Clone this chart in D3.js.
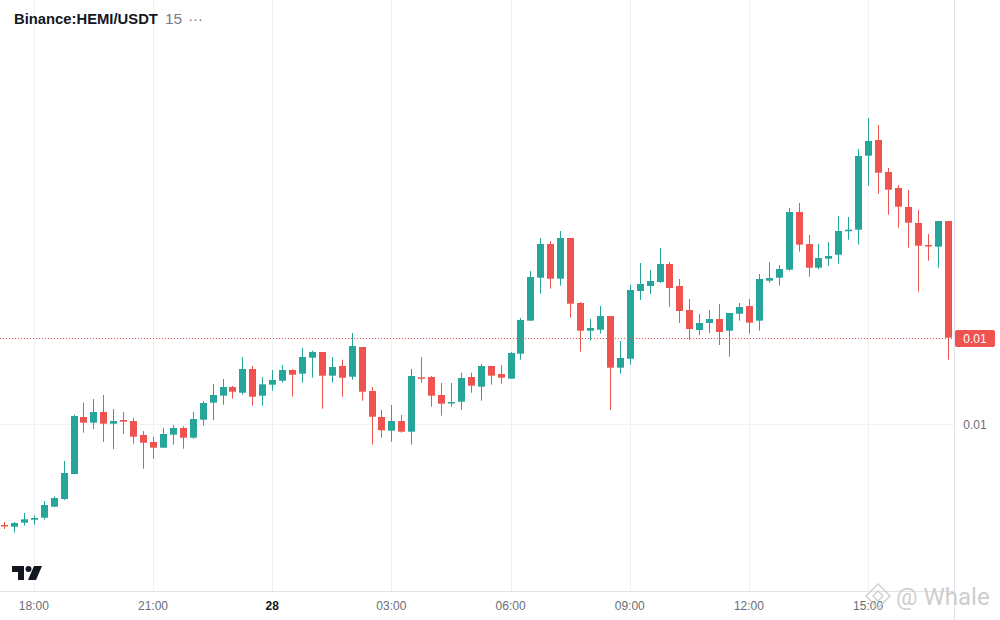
<!DOCTYPE html>
<html><head><meta charset="utf-8">
<script src="https://cdn.jsdelivr.net/npm/d3@7"></script>
<style>html,body{margin:0;padding:0;background:#fff;}svg{display:block;font-family:"Liberation Sans",Arial,sans-serif;}</style>
</head><body>
<svg id="c" width="1000" height="620"></svg>
<script>
const symbol = "Binance:HEMI/USDT";
const interval = "15";
const startTime = new Date(2025, 9, 27, 17, 15);
const stepMinutes = 15;
const opens = [0.00899,0.008973,0.009013,0.009043,0.009063,0.009173,0.00925,0.0095,0.01007,0.010013,0.01012,0.010003,0.01004,0.01003,0.00989,0.00982,0.009763,0.009893,0.00996,0.009863,0.010043,0.010213,0.010283,0.01037,0.010313,0.01055,0.010283,0.010393,0.010433,0.01054,0.010503,0.010663,0.01072,0.010483,0.01058,0.010473,0.01077,0.01033,0.01007,0.009933,0.01003,0.009923,0.010467,0.01047,0.01029,0.010215,0.010223,0.01047,0.010373,0.01058,0.0105,0.010453,0.010703,0.011033,0.011463,0.0118,0.011453,0.01186,0.01121,0.010933,0.010943,0.01108,0.010563,0.010653,0.01133,0.01138,0.01142,0.0116,0.01138,0.01114,0.01094,0.01101,0.01105,0.010933,0.011103,0.01118,0.011033,0.011433,0.011463,0.011543,0.01212,0.0118,0.011563,0.011653,0.011693,0.011927,0.011943,0.012683,0.01284,0.01252,0.01236,0.01217,0.01201,0.01179,0.011773,0.01203];
const highs = [0.00902,0.00902,0.00911,0.009087,0.00923,0.009277,0.00963,0.010093,0.010213,0.01025,0.01029,0.01015,0.01012,0.01006,0.00993,0.00987,0.00996,0.00999,0.009977,0.01012,0.01023,0.0104,0.01045,0.01038,0.01067,0.01058,0.01047,0.01054,0.01059,0.010547,0.01076,0.010733,0.01072,0.01067,0.010643,0.01091,0.01077,0.01037,0.01014,0.01019,0.01009,0.01055,0.01067,0.01048,0.01041,0.01041,0.010513,0.010513,0.0106,0.01058,0.01059,0.01072,0.01106,0.01153,0.01186,0.01183,0.01193,0.01186,0.01122,0.01105,0.01118,0.01108,0.01083,0.01139,0.01161,0.01154,0.01176,0.01162,0.01145,0.01125,0.0111,0.01114,0.0112,0.01111,0.01121,0.01125,0.0115,0.01162,0.01159,0.01216,0.01221,0.01189,0.0118,0.01182,0.01208,0.01207,0.01275,0.01306,0.01299,0.01256,0.01239,0.01234,0.01214,0.0119,0.01203,0.01203];
const lows = [0.00895,0.008915,0.008983,0.008993,0.009043,0.00917,0.00924,0.0095,0.009913,0.00995,0.00982,0.00975,0.0099,0.009803,0.009553,0.009653,0.009763,0.009793,0.009753,0.009853,0.009983,0.01004,0.010193,0.010253,0.010293,0.010183,0.010183,0.010333,0.010413,0.010273,0.010413,0.010463,0.010153,0.010413,0.010273,0.010443,0.010233,0.009793,0.009863,0.009823,0.009913,0.009793,0.010413,0.010173,0.010083,0.010173,0.010143,0.010313,0.010233,0.010393,0.010403,0.010453,0.010643,0.011033,0.011303,0.011353,0.011383,0.011063,0.010723,0.010833,0.010903,0.01014,0.010503,0.010593,0.01124,0.0113,0.01141,0.01117,0.01101,0.01084,0.01089,0.01091,0.01079,0.010673,0.011033,0.010903,0.010933,0.011413,0.011383,0.011533,0.011723,0.011473,0.011547,0.011583,0.011603,0.011843,0.011793,0.012383,0.012303,0.012093,0.011963,0.011763,0.011323,0.011633,0.011563,0.010643];
const closes = [0.008975,0.00901,0.009047,0.00906,0.00919,0.00926,0.00951,0.01008,0.010013,0.01012,0.010003,0.01003,0.010023,0.009873,0.009813,0.009763,0.0099,0.00996,0.009863,0.01005,0.01021,0.01029,0.01037,0.010323,0.01055,0.010273,0.010397,0.01044,0.01054,0.010493,0.01067,0.01072,0.010483,0.01057,0.010463,0.01078,0.010323,0.010073,0.009937,0.01003,0.009923,0.01048,0.01046,0.010283,0.010203,0.01022,0.01046,0.010383,0.01058,0.010483,0.010463,0.01071,0.01104,0.01147,0.0118,0.011453,0.01186,0.011203,0.010933,0.01096,0.01108,0.010563,0.01066,0.01134,0.0114,0.01143,0.0116,0.01136,0.01113,0.01095,0.01101,0.01105,0.01092,0.01111,0.01117,0.011013,0.01145,0.01146,0.01155,0.01212,0.011793,0.011563,0.01166,0.01168,0.01193,0.011943,0.01268,0.01283,0.012513,0.012343,0.012173,0.012013,0.011783,0.01178,0.01203,0.010863];
const priceTicks = [0.01];

const UP = "#26a69a", DOWN = "#ef5350";
const svg = d3.select("#c");
const W = 1000, H = 620, paneR = 954, paneB = 591;

const times = opens.map((_, i) => new Date(startTime.getTime() + i * stepMinutes * 60000));
const data = opens.map((o, i) => ({t: times[i], o, h: highs[i], l: lows[i], c: closes[i]}));

const x = d3.scaleTime().domain([times[0], times[times.length - 1]]).range([4, 947.6]);
const y = d3.scaleLinear().domain([0.00834, 0.01424]).range([590, 0]);

// grid
const timeTicks = x.ticks(d3.timeHour.every(3));
svg.append("g").selectAll("line").data(timeTicks).join("line")
  .attr("x1", d => Math.round(x(d)) + 0.5).attr("x2", d => Math.round(x(d)) + 0.5)
  .attr("y1", 0).attr("y2", paneB).attr("stroke", "#eff1f5").attr("stroke-width", 1);
svg.append("g").selectAll("line").data(priceTicks).join("line")
  .attr("x1", 0).attr("x2", paneR).attr("y1", d => Math.round(y(d)) + 0.5).attr("y2", d => Math.round(y(d)) + 0.5)
  .attr("stroke", "#eff1f5");

// borders
svg.append("line").attr("x1", paneR + 0.5).attr("x2", paneR + 0.5).attr("y1", 0).attr("y2", H).attr("stroke", "#e0e3eb");
svg.append("line").attr("x1", 0).attr("x2", paneR).attr("y1", paneB + 0.5).attr("y2", paneB + 0.5).attr("stroke", "#e0e3eb");

// candles
const bw = 7;
const g = svg.append("g");
const col = d => d.c >= d.o ? UP : DOWN;
g.selectAll("line.w").data(data).join("line").attr("class", "w")
  .attr("x1", d => Math.round(x(d.t)) + 0.5).attr("x2", d => Math.round(x(d.t)) + 0.5)
  .attr("y1", d => y(d.h)).attr("y2", d => y(d.l)).attr("stroke", col).attr("stroke-width", 1);
g.selectAll("rect.b").data(data).join("rect").attr("class", "b")
  .attr("x", d => Math.round(x(d.t)) - 3)
  .attr("y", d => Math.min(y(d.o), y(d.c)))
  .attr("width", bw)
  .attr("height", d => Math.max(1.5, Math.abs(y(d.o) - y(d.c))))
  .attr("fill", col);

// last price line
const last = data[data.length - 1];
const ly = Math.round(y(last.c)) + 0.5;
svg.append("line").attr("x1", 0).attr("x2", paneR).attr("y1", ly).attr("y2", ly)
  .attr("stroke", col(last)).attr("stroke-dasharray", "1,2").attr("stroke-width", 1);

// price axis labels
const fmt = d3.format(".2f");
svg.append("g").selectAll("text").data(priceTicks).join("text")
  .attr("x", 975).attr("y", d => y(d) + 4.5).attr("text-anchor", "middle")
  .attr("font-size", 12).attr("fill", "#6a6d78").text(fmt);
svg.append("rect").attr("x", paneR + 1).attr("y", ly - 8.5).attr("width", 40).attr("height", 17).attr("rx", 2)
  .attr("fill", col(last));
svg.append("text").attr("x", 975).attr("y", ly + 4.5).attr("text-anchor", "middle")
  .attr("font-size", 12).attr("fill", "#fff").text(fmt(last.c));

// time axis labels
svg.append("g").selectAll("text").data(timeTicks).join("text")
  .attr("x", d => x(d)).attr("y", 610).attr("text-anchor", "middle")
  .attr("font-size", 12)
  .attr("font-weight", d => d.getHours() === 0 ? "bold" : "normal")
  .attr("fill", d => d.getHours() === 0 ? "#131722" : "#6a6d78")
  .text(d => d.getHours() === 0 ? d3.timeFormat("%-d")(d) : d3.timeFormat("%H:%M")(d));

// title
const title = svg.append("text").attr("x", 14).attr("y", 24).attr("font-size", 14.8);
title.append("tspan").attr("font-weight", "bold").attr("fill", "#131722").text(symbol);
title.append("tspan").attr("dx", 7).attr("fill", "#787b86").attr("font-size", 15.5).text(interval);
title.append("tspan").attr("dx", 6).attr("fill", "#787b86").text("···");

// TradingView logo
const logo = svg.append("g").attr("fill", "#131722");
logo.append("path").attr("d", "M12,566 H24 V580 H18 V572 H12 Z");
logo.append("circle").attr("cx", 28.5).attr("cy", 569).attr("r", 3);
logo.append("path").attr("d", "M34,566 H42 L36,580 H28 Z");

// watermark
const wm = svg.append("g").attr("fill", "none").attr("stroke", "#cdcdcd").attr("stroke-width", 1.4);
wm.append("path").attr("d", "M878,584 L890,596 L878,608 L866,596 Z");
wm.append("path").attr("d", "M878,591 L883,596 L878,601 L873,596 Z");
svg.append("text").attr("x", 896).attr("y", 605).attr("font-size", 24).attr("fill", "#cdcdcd")
  .attr("font-family", "Roboto, sans-serif").text("@ Whale");
</script>
</body></html>
